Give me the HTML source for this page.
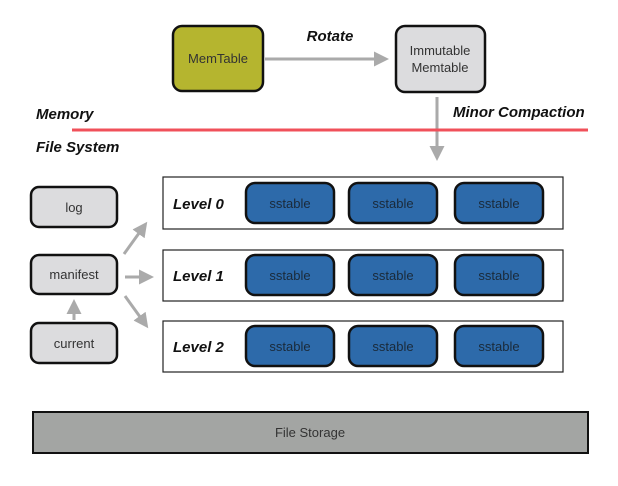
<!DOCTYPE html>
<html><head><meta charset="utf-8"><style>
html,body{margin:0;padding:0;background:#fff;}
svg{display:block;}
text{font-family:"Liberation Sans",sans-serif;}
.b{font-weight:bold;font-style:italic;font-size:15px;fill:#111;}
.n{font-size:13px;fill:#333;}
</style></head><body>
<svg width="618" height="486" viewBox="0 0 618 486" xmlns="http://www.w3.org/2000/svg">
<defs>
<marker id="ah" markerWidth="5" markerHeight="5" refX="2" refY="2.5" orient="auto" markerUnits="strokeWidth">
<path d="M0,0 L5,2.5 L0,5 Z" fill="#aaa"/>
</marker>
</defs>
<rect x="173" y="26" width="90" height="65" rx="9" fill="#b5b52f" stroke="#111" stroke-width="2.5"/>
<text class="n" x="218" y="63" text-anchor="middle">MemTable</text>
<rect x="396" y="26" width="89" height="66" rx="9" fill="#dcdcde" stroke="#111" stroke-width="2.5"/>
<text class="n" x="440" y="55" text-anchor="middle">Immutable</text>
<text class="n" x="440" y="72" text-anchor="middle">Memtable</text>
<line x1="265" y1="59" x2="380" y2="59" stroke="#aaa" stroke-width="3" marker-end="url(#ah)"/>
<text class="b" x="330" y="41" text-anchor="middle">Rotate</text>
<line x1="437" y1="97" x2="437" y2="152" stroke="#aaa" stroke-width="3" marker-end="url(#ah)"/>
<text class="b" x="36" y="119">Memory</text>
<text class="b" x="453" y="117">Minor Compaction</text>
<line x1="72" y1="130" x2="588" y2="130" stroke="#f0505a" stroke-width="3"/>
<text class="b" x="36" y="152">File System</text>
<rect x="31" y="187" width="86" height="40" rx="8" fill="#dcdcde" stroke="#111" stroke-width="2.5"/>
<text class="n" x="74" y="212" text-anchor="middle">log</text>
<rect x="31" y="255" width="86" height="39" rx="8" fill="#dcdcde" stroke="#111" stroke-width="2.5"/>
<text class="n" x="74" y="279" text-anchor="middle">manifest</text>
<rect x="31" y="323" width="86" height="40" rx="8" fill="#dcdcde" stroke="#111" stroke-width="2.5"/>
<text class="n" x="74" y="348" text-anchor="middle">current</text>
<line x1="74" y1="320" x2="74" y2="308" stroke="#aaa" stroke-width="3" marker-end="url(#ah)"/>
<line x1="124" y1="254" x2="142" y2="229" stroke="#aaa" stroke-width="3" marker-end="url(#ah)"/>
<line x1="125" y1="277" x2="145" y2="277" stroke="#aaa" stroke-width="3" marker-end="url(#ah)"/>
<line x1="125" y1="296" x2="143" y2="321" stroke="#aaa" stroke-width="3" marker-end="url(#ah)"/>
<g stroke="#222" stroke-width="1.2" fill="#fff">
<rect x="163" y="177" width="400" height="52"/>
<rect x="163" y="250" width="400" height="51"/>
<rect x="163" y="321" width="400" height="51"/>
</g>
<text class="b" x="173" y="209">Level 0</text>
<text class="b" x="173" y="281">Level 1</text>
<text class="b" x="173" y="352">Level 2</text>
<g fill="#2d6aaa" stroke="#111" stroke-width="2.5">
<rect x="246" y="183" width="88" height="40" rx="9"/>
<rect x="349" y="183" width="88" height="40" rx="9"/>
<rect x="455" y="183" width="88" height="40" rx="9"/>
<rect x="246" y="255" width="88" height="40" rx="9"/>
<rect x="349" y="255" width="88" height="40" rx="9"/>
<rect x="455" y="255" width="88" height="40" rx="9"/>
<rect x="246" y="326" width="88" height="40" rx="9"/>
<rect x="349" y="326" width="88" height="40" rx="9"/>
<rect x="455" y="326" width="88" height="40" rx="9"/>
</g>
<text class="n" x="290" y="208" text-anchor="middle" style="fill:#1a2a3a">sstable</text>
<text class="n" x="393" y="208" text-anchor="middle" style="fill:#1a2a3a">sstable</text>
<text class="n" x="499" y="208" text-anchor="middle" style="fill:#1a2a3a">sstable</text>
<text class="n" x="290" y="280" text-anchor="middle" style="fill:#1a2a3a">sstable</text>
<text class="n" x="393" y="280" text-anchor="middle" style="fill:#1a2a3a">sstable</text>
<text class="n" x="499" y="280" text-anchor="middle" style="fill:#1a2a3a">sstable</text>
<text class="n" x="290" y="351" text-anchor="middle" style="fill:#1a2a3a">sstable</text>
<text class="n" x="393" y="351" text-anchor="middle" style="fill:#1a2a3a">sstable</text>
<text class="n" x="499" y="351" text-anchor="middle" style="fill:#1a2a3a">sstable</text>
<rect x="33" y="412" width="555" height="41" fill="#a3a5a3" stroke="#111" stroke-width="2"/>
<text class="n" x="310" y="437" text-anchor="middle">File Storage</text>
</svg>
</body></html>
